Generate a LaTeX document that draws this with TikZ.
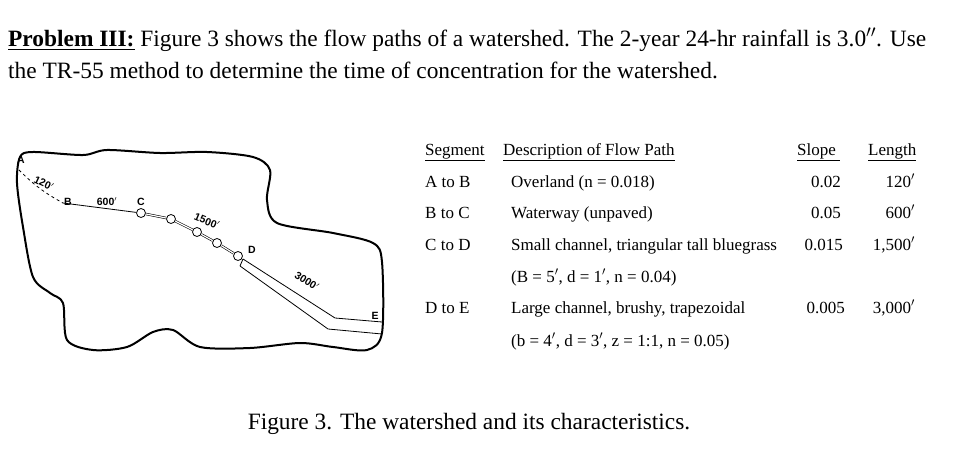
\documentclass[tikz,border=0pt]{standalone}
\usepackage{fontspec}
\setmainfont{Liberation Serif}
\newfontfamily\lab{Liberation Sans}
\begin{document}
\begin{tikzpicture}[x=1pt,y=-1pt,
  tt/.style={anchor=base west,inner sep=0pt,font=\fontsize{17}{19}\selectfont},
  tr/.style={anchor=base east,inner sep=0pt,font=\fontsize{17}{19}\selectfont},
  ml/.style={inner sep=0pt,font=\lab\bfseries\fontsize{10.5}{12}\selectfont},
  valve/.style={circle,draw,line width=0.8pt,fill=white,inner sep=0pt,minimum size=9pt},
  chan/.style={line width=0.8pt}]
\useasboundingbox (0,0) rectangle (962,460);
\node[anchor=base west,inner sep=0pt,font=\fontsize{23.4}{26}\selectfont] (t1) at (8,47) {\underline{\textbf{Problem III:}} Figure 3 shows the flow paths of a watershed. The 2-year 24-hr rainfall is 3.0$''$. Use};
\node[anchor=base west,inner sep=0pt,font=\fontsize{23.4}{26}\selectfont] (t2) at (8,79) {the TR-55 method to determine the time of concentration for the watershed.};
% boundary
\draw[line width=2pt,line join=round] plot[smooth cycle,tension=0.5] coordinates{
(20,157)(33,152)(83,155)(107,150)(160,153)(207,152)(253,157)(270,170)(267,200)(277,223)(333,233)(373,243)(382,262)(382,333)(367,350)(333,347)(300,343)(250,348)(200,347)(173,330)(153,332)(127,347)(93,350)(67,340)(63,303)(50,293)(33,277)(23,227)(17,183)};
% paths
\coordinate (A) at (19,170);
\coordinate (B) at (63,203);
\node[valve] (c1) at (141,213) {};
\node[valve] (c2) at (171,219) {};
\node[valve] (c3) at (197,232) {};
\node[valve] (c4) at (217,243) {};
\node[valve] (c5) at (238,256) {};
\draw[dashed,line width=0.8pt] (A) to[bend right=8] (B);
\draw[line width=0.8pt] (B) -- (c1);
\foreach \a/\b in {c1/c2,c2/c3,c3/c4,c4/c5}{\draw[double,double distance=1.2pt,line width=0.6pt] (\a) -- (\b);}
\coordinate (d1) at (243,259);\coordinate (d2) at (240,266);
\coordinate (e1) at (382,322);\coordinate (e2) at (382,334);
\draw[chan] (d1) -- (335,318) -- (e1);
\draw[chan] (d2) -- (328,329) -- (e2);
\draw[chan] (d1)--(d2);
\node[ml] (lA) at (21,160) {A};
\node[ml] (lB) at (68,202) {B};
\node[ml] (lC) at (141,202) {C};
\node[ml] (lD) at (252,250) {D};
\node[ml] (lE) at (375,316) {E};
\node[ml,rotate=-25] (l1) at (44,183) {120$'$};
\node[ml] (l2) at (107,202) {600$'$};
\node[ml,rotate=-22] (l3) at (207,221) {1500$'$};
\node[ml,rotate=-32] (l4) at (307,281) {3000$'$};
% table
\node[tt] (h1) at (425,155) {\underline{Segment}};
\node[tt] (h2) at (503,155) {\underline{Description of Flow Path}};
\node[tt] (h3) at (797,155) {\underline{Slope\ }};
\node[tt] (h4) at (868,155) {\underline{Length}};
\node[tt] (r1a) at (425,187) {A to B};
\node[tt] (r1b) at (511,187) {Overland (n = 0.018)};
\node[tr] (r1c) at (841,187) {0.02};
\node[tr] (r1d) at (915,187) {120$'$};
\node[tt] (r2a) at (425,218) {B to C};
\node[tt] (r2b) at (511,218) {Waterway (unpaved)};
\node[tr] (r2c) at (841,218) {0.05};
\node[tr] (r2d) at (915,218) {600$'$};
\node[tt] (r3a) at (425,250) {C to D};
\node[tt] (r3b) at (511,250) {Small channel, triangular tall bluegrass};
\node[tr] (r3c) at (843,250) {0.015};
\node[tr] (r3d) at (915,250) {1,500$'$};
\node[tt] (r3e) at (511,282) {(B = 5$'$, d = 1$'$, n = 0.04)};
\node[tt] (r4a) at (425,313) {D to E};
\node[tt] (r4b) at (511,313) {Large channel, brushy, trapezoidal};
\node[tr] (r4c) at (845,313) {0.005};
\node[tr] (r4d) at (915,313) {3,000$'$};
\node[tt] (r4e) at (511,346) {(b = 4$'$, d = 3$'$, z = 1:1, n = 0.05)};
\node[anchor=base,inner sep=0pt,font=\fontsize{23.4}{26}\selectfont] (cap) at (469,429) {Figure 3. The watershed and its characteristics.};
\end{tikzpicture}
\end{document}
